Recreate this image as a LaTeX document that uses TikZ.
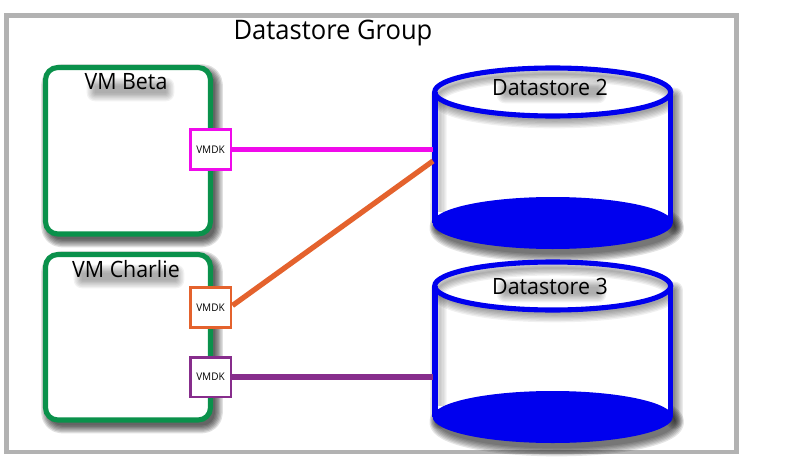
\documentclass[tikz,border=0pt]{standalone}
\usepackage{fontspec}
\setmainfont[FakeStretch=0.95]{Open Sans}
\usetikzlibrary{calc, shapes.geometric}

\definecolor{framegray}{RGB}{178,178,178}
\definecolor{vmgreen}{RGB}{10,145,75}
\definecolor{dsblue}{RGB}{0,0,238}
\definecolor{linkmagenta}{RGB}{240,10,235}
\definecolor{linkorange}{RGB}{228,98,45}
\definecolor{linkpurple}{RGB}{135,45,140}

\tikzset{
  vm/.style={draw=vmgreen, line width=2.9pt, rounded corners=7pt},
  vmdk/.style={draw=#1, line width=1.7pt, fill=white, minimum width=0.82cm, minimum height=0.80cm, inner sep=0pt, font=\fontsize{6pt}{7pt}\selectfont},
  link/.style={draw=#1, line width=3pt},
  wall/.style={draw=dsblue, line width=2.9pt},
  title/.style={inner sep=0pt, font=\fontsize{15.3pt}{18pt}\selectfont},
  label/.style={inner sep=0pt, font=\fontsize{12.8pt}{16pt}\selectfont},
}

% shadow of a closed path, each wider pass makes it softer
% #1 opacity of a pass, #2 shift, #3 path
\newcommand{\softshadow}[3]{%
  \foreach \w in {0.5,2,3.5,5,6.5,8,9.5} {
    \begin{scope}[transparency group, opacity=#1, shift={#2}]
      \path[draw=black, fill=black, line join=round, line width=\w pt] #3;
    \end{scope}
  }
}
% same thing for an outline only
\newcommand{\softline}[3]{%
  \foreach \w in {1,2.5,4,5.5,7,8.5} {
    \path[draw=black, opacity=#1, line width=\w pt, shift={#2}] #3;
  }
}

% cylinder: #1 name, #2 rim y, #3 text y, #4 text
\newcommand{\datastore}[4]{%
  \begin{scope}[yshift=-0.02cm*#2]
    \softshadow{0.08}{(4,4)}{(435,0) -- (670.5,0) -- (670.5,131) arc[x radius=118, y radius=24, start angle=0, end angle=-180] -- cycle}
    \softshadow{0.10}{(4,5)}{(552.7,131) ellipse[x radius=119, y radius=26]}
    \fill[white] (435,0) rectangle (670.5,131);
    % inner shadows of the rim and of the left wall
    \begin{scope}
      \clip (435,0) rectangle (670.5,131);
      \softshadow{0.06}{(2,5)}{(552.7,0) ellipse[x radius=117, y radius=23]}
      \softline{0.035}{(4,0)}{(436,0) -- (436,120)}
    \end{scope}
    \fill[white] (552.7,0) ellipse[x radius=118, y radius=24];
    \begin{scope}
      \clip (552.7,0) ellipse[x radius=118, y radius=24];
      \softline{0.06}{(2,6)}{(552.7,0) ellipse[x radius=118, y radius=24]}
      \softshadow{0.05}{(0,0)}{(505,#3+1) rectangle (598,#3+8)}
    \end{scope}
    \fill[dsblue] (552.7,131) ellipse[x radius=120, y radius=26];
    \draw[wall] (435,0) -- (435,131);
    \draw[wall] (670.5,0) -- (670.5,131);
    \draw[wall] (552.7,0) ellipse[x radius=118, y radius=24];
    \node[label] (#1) at (550,#3) {#4};
  \end{scope}
}

\begin{document}
\begin{tikzpicture}[x=0.02cm, y=-0.02cm]
  \useasboundingbox (0,0) rectangle (794,466);
  \fill[white] (0,0) rectangle (794,466);
  \draw[framegray, line width=2.6pt] (6.5,15.5) rectangle (736.5,452);

  \node[title] (group) at (333,33) {Datastore Group};

  % datastores
  \datastore{ds2}{92}{-5}{Datastore 2}
  \datastore{ds3}{286}{0}{Datastore 3}

  % machines
  \softshadow{0.12}{(4,5)}{[rounded corners=7pt] (45.5,67.5) rectangle (210.5,234)}
  \softshadow{0.12}{(4,5)}{[rounded corners=7pt] (45.5,254.5) rectangle (210.5,420)}
  \fill[white, rounded corners=7pt] (45.5,67.5) rectangle (210.5,234);
  \fill[white, rounded corners=7pt] (45.5,254.5) rectangle (210.5,420);
  \draw[vm] (45.5,67.5) rectangle (210.5,234);
  \draw[vm] (45.5,254.5) rectangle (210.5,420);
  \softshadow{0.05}{(0,0)}{(95,86) rectangle (166,93)}
  \softshadow{0.05}{(0,0)}{(82,273) rectangle (176,280)}
  \node[label] (beta) at (126,82) {VM Beta};
  \node[label] (charlie) at (126,269) {VM Charlie};

  % disks
  \node[vmdk=linkmagenta] (disk1) at (210.5,149.5) {VMDK};
  \node[vmdk=linkorange] (disk2) at (210.5,307.5) {VMDK};
  \node[vmdk=linkpurple] (disk3) at (210.5,377) {VMDK};

  % links
  \coordinate (in1) at (433,149.5);
  \coordinate (in2) at (433,161);
  \coordinate (in3) at (433,377);
  \draw[link=linkmagenta] (disk1) -- (in1);
  \draw[link=linkorange] (disk2.east) ++(0,-2) -- (in2);
  \draw[link=linkpurple] (disk3) -- (in3);
\end{tikzpicture}
\end{document}
